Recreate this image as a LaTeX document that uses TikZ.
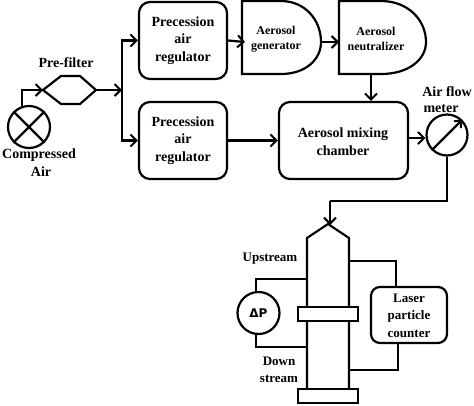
\documentclass[tikz,border=0pt]{standalone}
\usepackage{fontspec}
\setmainfont{Liberation Serif}
\newfontfamily\deltafont{DejaVu Sans}
\usetikzlibrary{arrows.meta,calc}
\tikzset{
  ln/.style={line width=2.2pt,black},
  conn/.style={ln,line join=miter},
  arr/.style={conn,-{Straight Barb[length=6pt,width=12pt,line width=2pt]}},
  rbox/.style={ln,draw,rounded corners=11pt,inner sep=0pt,fill=white},
  rect/.style={ln,draw,inner sep=0pt,fill=white},
  circ/.style={ln,draw,circle,inner sep=0pt,fill=white},
  lab/.style={font=\fontsize{14}{15}\selectfont\bfseries,inner sep=0pt,color=black},
  labs/.style={font=\fontsize{11.5}{13}\selectfont\bfseries,inner sep=0pt,color=black},
}
\begin{document}
\begin{tikzpicture}[x=1pt,y=-1pt]
\useasboundingbox (0,0) rectangle (474,405);
% nodes
\node[circ,minimum size=42pt] (src) at (29,127) {};
\draw[ln] (src.north east) -- (src.south west) (src.north west) -- (src.south east);
\draw[ln,line join=miter] (43,90) coordinate (fl) -- (61,76) -- (80,76) -- (96,90) coordinate (fr) -- (80,104) -- (61,104) -- cycle;
\node[rbox,minimum width=88pt,minimum height=77pt] (reg1) at (183,40.5) {};
\node[rbox,minimum width=88pt,minimum height=77pt] (reg2) at (183,140.5) {};
\node[rbox,minimum width=129pt,minimum height=77pt] (mix) at (343.5,140.5) {};
\node[circ,minimum size=41pt] (meter) at (447,135) {};
\draw[ln] (242,1) coordinate (g1) -- (281,1) .. controls (305,1) and (321,20) .. (321,42) coordinate (gr) .. controls (321,60) and (305,74) .. (281,74) -- (242,74) -- cycle;
\draw[ln] (339,1) -- (381,1) .. controls (408,1) and (426,20) .. (426,42) .. controls (426,60) and (408,74) .. (381,74) -- (339,74) -- cycle;
\coordinate (gl) at (245,42);
\coordinate (nl) at (339,42);
\coordinate (nb) at (371,74);
\coordinate (st) at (22,106);
\coordinate (sk) at (22,90);
% column
\coordinate (tip) at (328,224);
\draw[ln,line join=miter,fill=white] (307,389) -- (307,238) -- (tip) -- (349,238) -- (349,389);
\node[rect,minimum width=60pt,minimum height=14pt] (band) at (328,314) {};
\node[rect,minimum width=60pt,minimum height=14pt] (base) at (328,396) {};
\node[circ,minimum size=42pt] (dp) at (258.5,313) {};
\node[rbox,rounded corners=9pt,minimum width=76pt,minimum height=56pt] (lpc) at (409,315) {};
\coordinate (ju) at (307,279);
\coordinate (jd) at (307,347);
\coordinate (ru) at (349,261);
\coordinate (rd) at (349,370);
\coordinate (split) at (122,90);
\coordinate (mb) at (330,201);
\coordinate (me) at (330,225);
% connectors
\draw[arr] (st) -- (sk) -- (fl);
\draw[arr] (fr) -- (split);
\draw[arr] (split) |- (reg1.west);
\draw[arr] (split) |- (reg2.west);
\draw[arr] (reg1.east) -- (gl);
\draw[arr] (gr) -- (nl);
\draw[arr] (nb) -- (mix.north -| nb);
\draw[arr] (reg2.east) -- (mix.west);
\draw[arr] (mix.east |- 0,138) -- (meter.west |- 0,138);
\draw[conn] (meter.south) |- (mb);
\draw[arr] (mb) -- (me);
\draw[conn,-{Straight Barb[length=5.5pt,width=10pt,line width=2pt]}] (meter.south west) -- (meter.north east);
\draw[conn] (ju) -| (dp.north -| 256,0);
\draw[conn] (jd) -| (dp.south -| 256,0);
\draw[conn] (ru) -| (lpc.north -| 396,0);
\draw[conn] (rd) -| (lpc.south -| 398,0);
% labels
\node[lab] (t1) at (39,155) {Compressed};
\node[lab] (t2) at (41,172) {Air};
\node[lab] (t3) at (66,63) {Pre-filter};
\node[lab,align=center,font=\fontsize{14}{17.5}\selectfont\bfseries] (t4) at (reg1) {Precession\\air\\regulator};
\node[lab,align=center,font=\fontsize{14}{17.5}\selectfont\bfseries] (t5) at (reg2) {Precession\\air\\regulator};
\node[labs,align=center,font=\fontsize{12}{15}\selectfont\bfseries] (t6) at (276,39) {Aerosol\\generator};
\node[labs,align=center,font=\fontsize{12}{15}\selectfont\bfseries] (t7) at (376,39) {Aerosol\\neutralizer};
\node[lab,align=center,font=\fontsize{14}{17.5}\selectfont\bfseries] (t8) at (343,141.5) {Aerosol mixing\\chamber};
\node[lab] (t9) at (447,92) {Air flow};
\node[lab] (t10) at (441,109) {meter};
\node[labs,font=\fontsize{13}{14}\selectfont\bfseries] (t11) at (270,259) {Upstream};
\node[labs,font=\fontsize{12}{14}\selectfont\deltafont\bfseries] (t12) at (dp) {ΔP};
\node[lab,font=\fontsize{13}{17}\selectfont\bfseries,align=center] (t13) at (279,369.5) {Down\\stream};
\node[lab,font=\fontsize{13}{17.5}\selectfont\bfseries,align=center] (t14) at (409,315.5) {Laser\\particle\\counter};
\end{tikzpicture}
\end{document}
